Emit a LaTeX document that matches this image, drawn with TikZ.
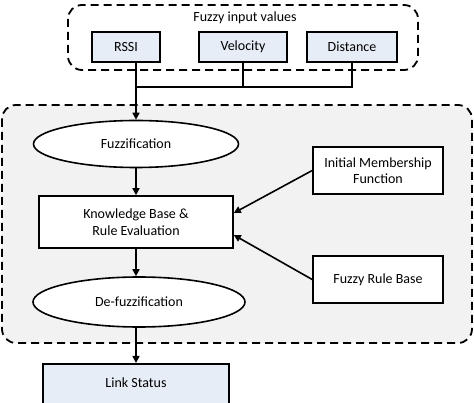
\documentclass[tikz,border=0pt]{standalone}
\usepackage{fontspec}
\setmainfont{Carlito}
\usetikzlibrary{shapes.geometric,arrows.meta}
\definecolor{inblue}{HTML}{E7EDF6}
\definecolor{panelgray}{HTML}{F2F2F2}
\begin{document}
\begin{tikzpicture}[x=1pt,y=-1pt,
  every node/.style={font=\fontsize{14}{16.5}\selectfont},
  inbox/.style={draw,line width=1.6pt,fill=inblue,minimum height=30pt,inner sep=0pt},
  plainbox/.style={draw,line width=1.6pt,fill=white,inner sep=0pt,align=center},
  ell/.style={draw,ellipse,line width=1.6pt,fill=white,inner sep=0pt},
  conn/.style={line width=1.6pt},
  arr/.style={line width=1.6pt,-{Triangle[length=7pt,width=7pt]}},
  dashbox/.style={line width=1.8pt,dash pattern=on 8pt off 5pt,rounded corners=14pt}]
\useasboundingbox (0,0) rectangle (474,403);
\clip (0,0) rectangle (474,403);
% outer frames
\draw[dashbox] (68,5) rectangle (418,70);
\draw[dashbox,fill=panelgray] (2,105) rectangle (472,343);
\node (title) at (245,18) {Fuzzy input values};
\node[inbox,minimum width=68pt] (rssi) at (126,47) {RSSI};
\node[inbox,minimum width=88pt] (vel) at (243,47) {Velocity};
\node[inbox,minimum width=90pt] (dist) at (352,47) {Distance};
\node[ell,minimum width=205pt,minimum height=47pt] (fuzz) at (136,144) {Fuzzification};
\node[plainbox,minimum width=194pt,minimum height=52pt] (kb) at (136,222) {Knowledge Base \&\\Rule Evaluation};
\node[plainbox,minimum width=130pt,minimum height=47pt] (imf) at (378,170.5) {Initial Membership\\Function};
\node[plainbox,minimum width=130pt,minimum height=47pt] (frb) at (378,279.5) {Fuzzy Rule Base};
\node[ell,minimum width=212pt,minimum height=50pt] (defuzz) at (139,302) {De-fuzzification};
\node[draw,line width=1.6pt,fill=inblue,minimum width=186pt,minimum height=50pt,inner sep=0pt,anchor=north] (link) at (136,363) {};
\node at (136,383) {Link Status};
\coordinate (j1) at (136,87);
\draw[conn] (rssi.south -| j1) -- (j1);
\draw[conn] (vel.south) -- (vel.south |- j1);
\draw[conn] (dist.south) -- (dist.south |- j1) -- (j1);
\draw[arr] (j1) -- (fuzz.north -| j1);
\draw[arr] (fuzz.south) -- (kb.north);
\draw[arr] (imf.west) -- (kb.east |- 0,213);
\draw[arr] (frb.west) -- (kb.east |- 0,235);
\draw[arr] (kb.south) -- (kb.south |- defuzz.north);
\draw[arr] (defuzz.south -| kb.south) -- (link.north);
\end{tikzpicture}
\end{document}
